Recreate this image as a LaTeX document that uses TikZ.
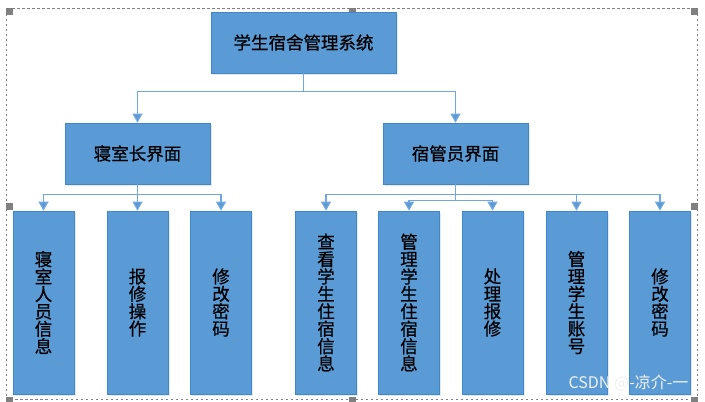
\documentclass[tikz,border=0pt]{standalone}
\usepackage{fontspec}
\newfontfamily\cjk[BoldFont={Noto Sans CJK SC},BoldFeatures={FakeBold=0.7}]{Noto Sans CJK SC}
\usetikzlibrary{arrows.meta,shadows}
\definecolor{boxblue}{RGB}{91,155,213}
\definecolor{boxedge}{RGB}{62,136,206}
\definecolor{linkblue}{RGB}{112,167,222}
\definecolor{handle}{RGB}{128,128,128}

\begin{document}
\begin{tikzpicture}
  [x=1pt,y=-1pt,
   box/.style={rectangle,fill=boxblue,draw=boxedge,line width=.7pt,inner sep=0pt,
     align=center,font=\cjk\bfseries\fontsize{17.5}{17.4}\selectfont,
     drop shadow={shadow xshift=1.5pt,shadow yshift=-1.5pt,opacity=.18}},
   wide/.style={box,minimum width=145pt,minimum height=61pt},
   leaf/.style={box,minimum width=61pt,minimum height=183pt},
   conn/.style={linkblue,line width=1.2pt,-{Triangle[width=10pt,length=9pt,fill=boxblue]}},
   grab/.style={fill=handle,draw=none,minimum size=7pt,inner sep=0pt}]
  \useasboundingbox (0,0) rectangle (705,402);
  % selection frame
  \draw[handle,line width=.9pt,dash pattern=on 2.5pt off 2.5pt] (6.5,8.5) rectangle (697,399.5);
  \node[grab] (g1) at (9.5,11.5) {};
  \node[grab] (g2) at (352.5,11.5) {};
  \node[grab] (g3) at (694,11.5) {};
  \node[grab] (g4) at (9.5,206) {};
  \node[grab] (g5) at (694,206) {};
  \node[grab] (g6) at (9.5,400) {};
  \node[grab] (g7) at (352.5,400) {};
  \node[grab] (g8) at (694,400) {};

  \node[box,minimum width=185pt,minimum height=61pt] (root) at (303.5,42.5) {学生宿舍管理系统};
  \node[wide] (dorm) at (137.5,153.5) {寝室长界面};
  \node[wide] (keeper) at (455.5,153.5) {宿管员界面};

  \node[leaf] (d1) at (43.5,302.5) {寝\\室\\人\\员\\信\\息};
  \node[leaf] (d2) at (137.5,302.5) {报\\修\\操\\作};
  \node[leaf] (d3) at (221,302.5) {修\\改\\密\\码};

  \node[leaf] (k1) at (326,302.5) {查\\看\\学\\生\\住\\宿\\信\\息};
  \node[leaf] (k2) at (409,302.5) {管\\理\\学\\生\\住\\宿\\信\\息};
  \node[leaf] (k3) at (492.5,302.5) {处\\理\\报\\修};
  \node[leaf] (k4) at (576.5,302.5) {管\\理\\学\\生\\账\\号};
  \node[leaf] (k5) at (660,302.5) {修\\改\\密\\码};

  \draw[conn] (root.south) -- ++(0,18) -| (dorm.north);
  \draw[conn] (root.south) -- ++(0,18) -| (keeper.north);

  \draw[conn] (dorm.south) -- ++(0,10) -| (d1.north);
  \draw[conn] (dorm.south) -- (d2.north);
  \draw[conn] (dorm.south) -- ++(0,10) -| (d3.north);

  \draw[conn] (keeper.south) -- ++(0,10) -| (k1.north);
  \draw[conn] (keeper.south) -- ++(0,16.5) -| (k2.north);
  \draw[conn] (keeper.south) -- ++(0,16.5) -| (k3.north);
  \draw[conn] (keeper.south) -- ++(0,10) -| (k4.north);
  \draw[conn] (keeper.south) -- ++(0,10) -| (k5.north);

  \node[text=white!88!gray,font=\cjk\fontsize{16}{16}\selectfont,inner sep=0pt] (mark) at (628.5,383) {CSDN @-凉介-一};
\end{tikzpicture}
\end{document}
